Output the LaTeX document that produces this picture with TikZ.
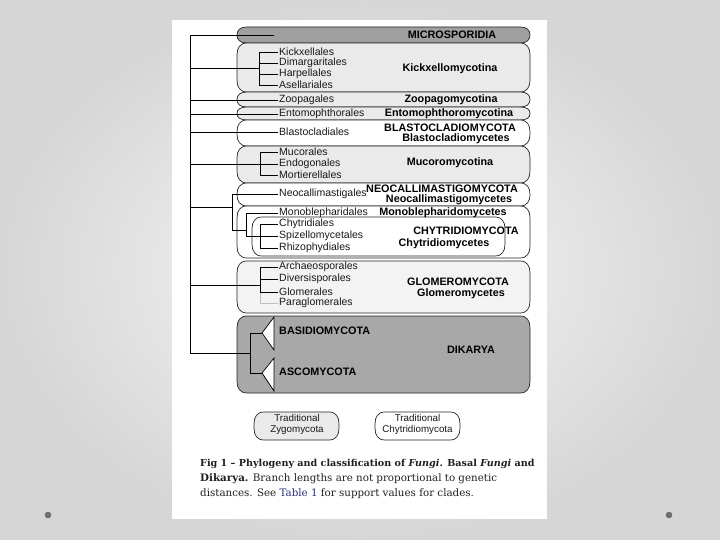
\documentclass[tikz,border=0pt]{standalone}
\usepackage{fontspec}
\setmainfont{Liberation Sans}
\newfontfamily\capfont{DejaVu Serif}
\usepackage{xcolor}
\usepackage{tikz}
\usetikzlibrary{calc}
\definecolor{slidegray}{HTML}{D6D6D6}
\definecolor{slidelight}{HTML}{F8F8F8}
\definecolor{dotgray}{HTML}{6E6E6E}
\definecolor{microgray}{HTML}{A0A0A0}
\definecolor{dikgray}{HTML}{A8A8A8}
\definecolor{zygogray}{HTML}{EAEAEA}
\definecolor{glomgray}{HTML}{F3F3F3}
\definecolor{capblack}{HTML}{231F20}
\definecolor{tableblue}{HTML}{2B2F7A}
% rounded clade panel: fill, x1, y1, x2, y2
\newcommand{\cladebox}[5]{%
  \pgfmathsetmacro{\cbv}{min(12,(#5-(#3))/2)}%
  \draw[boxline, fill=#1]
    (#2+10,#3) -- (#4-10,#3)
    .. controls (#4-3,#3) and (#4,#3+0.4*\cbv) .. (#4,#3+\cbv)
    -- (#4,#5-\cbv)
    .. controls (#4,#5-0.4*\cbv) and (#4-3,#5) .. (#4-10,#5)
    -- (#2+10,#5)
    .. controls (#2+3,#5) and (#2,#5-0.4*\cbv) .. (#2,#5-\cbv)
    -- (#2,#3+\cbv)
    .. controls (#2,#3+0.4*\cbv) and (#2+3,#3) .. (#2+10,#3) -- cycle;}
\tikzset{
  boxline/.style={draw=black!85, line width=0.7pt},
  branch/.style={draw=black, line width=0.8pt},
  faintbranch/.style={draw=black!25, line width=0.8pt},
  tri/.style={draw=black, fill=white, line width=0.7pt, line join=miter},
  order/.style={anchor=west, inner sep=1pt, text=black!90,
    font=\fontsize{10.5}{12}\selectfont},
  clade/.style={inner sep=0pt, font=\bfseries\fontsize{10.8}{12}\selectfont},
  legend/.style={inner sep=0pt, align=center, text=black!90,
    font=\fontsize{9.8}{11}\selectfont},
  caption/.style={anchor=base west, inner sep=0pt, text=capblack,
    font=\capfont\fontsize{10.3}{15}\selectfont}
}
\begin{document}
\begin{tikzpicture}[x=1pt,y=-1pt]
  \path[use as bounding box] (0,0) rectangle (720,540);
  \shade[inner color=slidelight, outer color=slidegray] (0,0) rectangle (720,540);
  \fill[white] (172,20) rectangle (547,519);
  \fill[dotgray] (48,515) circle (3.3);
  \fill[dotgray] (669,515) circle (3.3);

  % clade panels
  \cladebox{microgray}{237}{27}{530}{43}
  \cladebox{zygogray}{237}{43}{530}{92}
  \cladebox{zygogray}{237}{92}{530}{107}
  \cladebox{zygogray}{237}{107}{530}{120}
  \cladebox{white}{237}{120}{530}{146}
  \cladebox{zygogray}{237}{146}{530}{183}
  \cladebox{white}{237}{183}{530}{206}
  \cladebox{white}{237}{206}{530}{258}
  \cladebox{white}{252}{217}{505}{256}
  \cladebox{glomgray}{237}{261}{530}{313}
  \cladebox{dikgray}{237}{316}{530}{393}

  % orders
  \node[order] (kick) at (278,52) {Kickxellales};
  \node[order] (dima) at (278,63) {Dimargaritales};
  \node[order] (harp) at (278,74) {Harpellales};
  \node[order] (asel) at (278,85) {Asellariales};
  \node[order] (zoop) at (278,100) {Zoopagales};
  \node[order] (ento) at (278,114) {Entomophthorales};
  \node[order] (blas) at (278,132) {Blastocladiales};
  \node[order] (muco) at (278,152) {Mucorales};
  \node[order] (endo) at (278,164) {Endogonales};
  \node[order] (mort) at (278,175) {Mortierellales};
  \node[order] (neoc) at (278,194) {Neocallimastigales};
  \node[order] (mono) at (278,213) {Monoblepharidales};
  \node[order] (chyt) at (278,224) {Chytridiales};
  \node[order] (spiz) at (278,236) {Spizellomycetales};
  \node[order] (rhiz) at (278,248) {Rhizophydiales};
  \node[order] (arch) at (278,267) {Archaeosporales};
  \node[order] (dive) at (278,279) {Diversisporales};
  \node[order] (glom) at (278,292) {Glomerales};
  \node[order] (parg) at (278,303) {Paraglomerales};

  % clade names
  \node[clade] (microsp) at (452,35) {MICROSPORIDIA};
  \node[clade] (kickxm) at (450,69) {Kickxellomycotina};
  \node[clade] (zoopm) at (451,100) {Zoopagomycotina};
  \node[clade] (entom) at (449,114) {Entomophthoromycotina};
  \node[clade] (blastp) at (450,128) {BLASTOCLADIOMYCOTA};
  \node[clade] (blastc) at (456,138.5) {Blastocladiomycetes};
  \node[clade] (mucom) at (450,163) {Mucoromycotina};
  \node[clade] (neop) at (442,189) {NEOCALLIMASTIGOMYCOTA};
  \node[clade] (neoc2) at (449,200) {Neocallimastigomycetes};
  \node[clade] (monoc) at (443,213) {Monoblepharidomycetes};
  \node[clade] (chytp) at (466,231) {CHYTRIDIOMYCOTA};
  \node[clade] (chytc) at (444,244) {Chytridiomycetes};
  \node[clade] (glomp) at (458,282) {GLOMEROMYCOTA};
  \node[clade] (glomc) at (461,294) {Glomeromycetes};
  \node[clade, anchor=west] (basid) at (279,331) {BASIDIOMYCOTA};
  \node[clade, anchor=west] (ascom) at (279,372) {ASCOMYCOTA};
  \node[clade] (dikar) at (471,350) {DIKARYA};

  % collapsed Dikarya subtrees
  \coordinate (basT) at (262,333);
  \coordinate (ascT) at (262,373);
  \draw[tri] (basT) -- (274,317) -- (274,350) -- cycle;
  \draw[tri] (ascT) -- (274,358) -- (274,391) -- cycle;

  % tree
  \coordinate (root) at (190,353);
  \coordinate (micro) at (274,35);
  \coordinate (nKick) at (259,68.5);
  \coordinate (nMuc) at (260,164);
  \coordinate (nChy) at (232,207);
  \coordinate (nMono) at (246,230);
  \coordinate (nChyt) at (260,236);
  \coordinate (nGlo) at (260,285);
  \coordinate (nDik) at (250,353);
  \draw[branch] (root) |- (micro);
  \draw[branch] (root) |- (nKick);
  \foreach \ord in {kick,dima,harp,asel}
    \draw[branch] (nKick) |- (\ord.west);
  \draw[branch] (root) |- (zoop.west);
  \draw[branch] (root) |- (ento.west);
  \draw[branch] (root) |- (blas.west);
  \draw[branch] (root) |- (nMuc);
  \foreach \ord in {muco,endo,mort}
    \draw[branch] (nMuc) |- (\ord.west);
  \draw[branch] (root) |- (nChy);
  \draw[branch] (nChy) |- (neoc.west);
  \draw[branch] (nChy) |- (nMono);
  \draw[branch] (nMono) |- (mono.west);
  \draw[branch] (nMono) |- (nChyt);
  \foreach \ord in {chyt,spiz,rhiz}
    \draw[branch] (nChyt) |- (\ord.west);
  \draw[faintbranch] (nGlo) |- (parg.west);
  \draw[branch] (root) |- (nGlo);
  \foreach \ord in {arch,dive,glom}
    \draw[branch] (nGlo) |- (\ord.west);
  \draw[branch] (root) -- (nDik);
  \draw[branch] (nDik) |- (basT);
  \draw[branch] (nDik) |- (ascT);

  % legend
  \cladebox{zygogray}{254}{412}{339}{440}
  \cladebox{white}{375}{412}{460}{440}
  \node[legend] (zygo) at (297,424) {Traditional\\Zygomycota};
  \node[legend] (chytr) at (417.5,424) {Traditional\\Chytridiomycota};

  % caption
  \node[caption] (cap1) at (200,466)
    {\bfseries\fontsize{9.6}{15}\selectfont Fig 1 – Phylogeny and classification of \textit{Fungi}. Basal \textit{Fungi} and};
  \node[caption] (cap2) at (200,481)
    {\textbf{Dikarya.} Branch lengths are not proportional to genetic};
  \node[caption] (cap3) at (200,496)
    {distances. See \textcolor{tableblue}{Table 1} for support values for clades.};
\end{tikzpicture}
\end{document}
